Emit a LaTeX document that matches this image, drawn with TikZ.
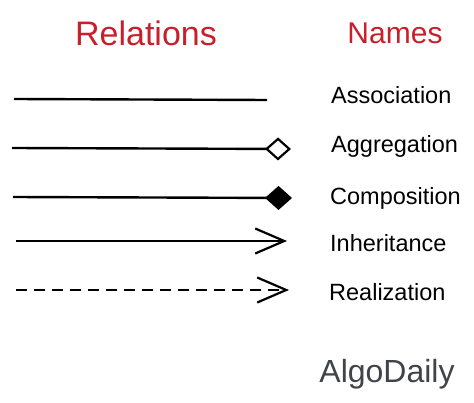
\documentclass[tikz,border=0pt]{standalone}
\usepackage{fontspec}
\setmainfont{Liberation Sans}
\usetikzlibrary{arrows.meta}
\definecolor{hdred}{HTML}{C8202B}
\definecolor{logogray}{HTML}{3E444A}
\tikzset{
  header/.style={text=hdred, font=\fontsize{34}{38}\selectfont, inner sep=0pt},
  relname/.style={text=black, font=\fontsize{23.5}{27}\selectfont, inner sep=0pt, anchor=west},
  relline/.style={line width=2.4pt, draw=black},
  aggtip/.style={-{Diamond[open,length=26pt,width=23pt,line width=2.2pt]}},
  comptip/.style={-{Diamond[length=27pt,width=24pt]}},
  inhtip/.style={-{Straight Barb[length=29pt,width=25pt,line width=2.2pt]}},
  dashline/.style={dash pattern=on 11pt off 7pt}
}
\begin{document}
\begin{tikzpicture}[x=1pt,y=-1pt]
\useasboundingbox (0,0) rectangle (474,403);
\node[header] (hrel) at (146,33) {Relations};
\node[header, font=\fontsize{30}{34}\selectfont] (hnames) at (395,33) {Names};
% Association
\coordinate (a1) at (14,99);
\coordinate (a2) at (267,100);
\draw[relline] (a1) -- (a2);
\node[relname] (nass) at (331,95) {Association};
% Aggregation
\coordinate (g1) at (12,148);
\coordinate (g2) at (291,149);
\draw[relline, aggtip] (g1) -- (g2);
\node[relname] (nagg) at (331,146) {Aggregation};
% Composition
\coordinate (c1) at (13,197);
\coordinate (c2) at (292,198);
\draw[relline, comptip] (c1) -- (c2);
\node[relname] (ncomp) at (330,198) {Composition};
% Inheritance
\coordinate (i1) at (16,241);
\coordinate (i2) at (287,241);
\draw[relline, inhtip] (i1) -- (i2);
\node[relname] (ninh) at (330,243) {Inheritance};
% Realization
\coordinate (r1) at (16,290);
\coordinate (r2) at (289,290);
\draw[relline, dashline, inhtip] (r1) -- (r2);
\node[relname] (nreal) at (329,292) {Realization};
% logo
\node[text=logogray, font=\fontsize{32}{36}\selectfont, inner sep=0pt] (logo) at (387,374) {AlgoDaily};
\end{tikzpicture}
\end{document}
